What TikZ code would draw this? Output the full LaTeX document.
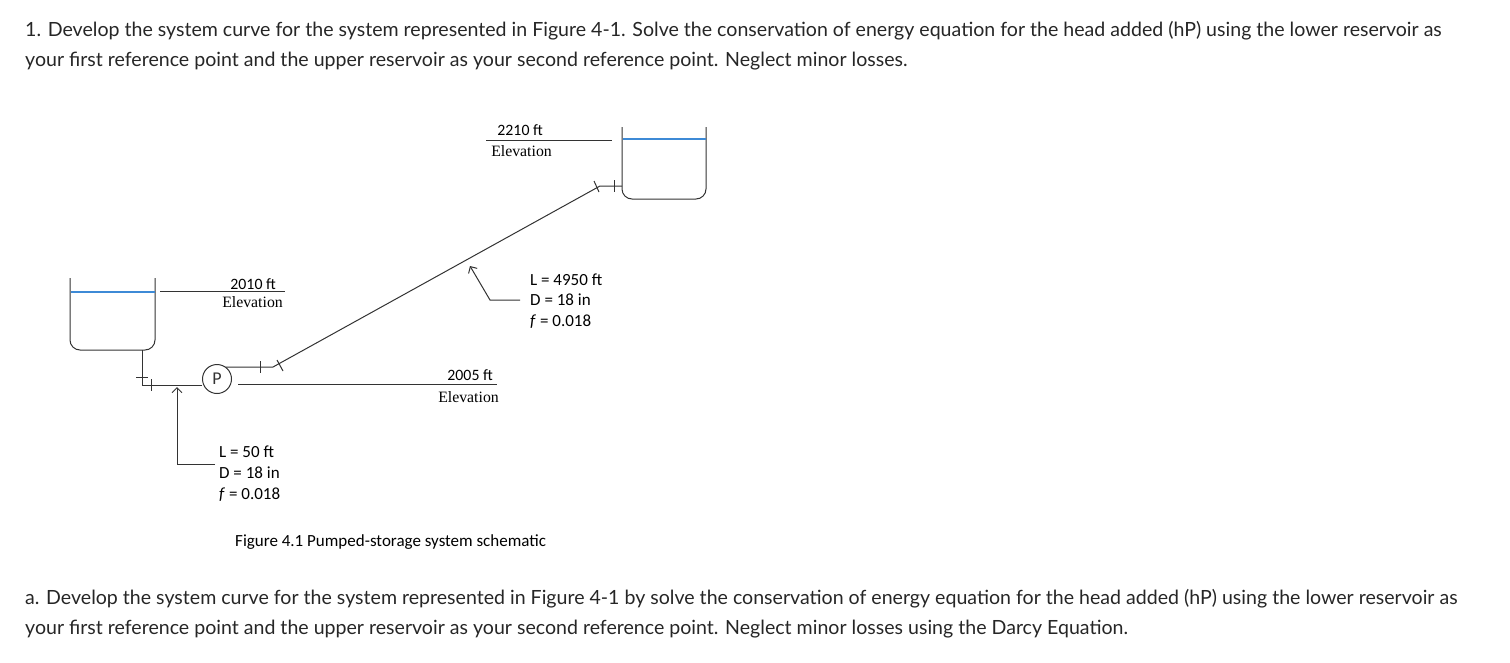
\documentclass[tikz,border=0pt]{standalone}
\usepackage{fontspec}
\setmainfont{Lato}
\newfontfamily\calf{Carlito}
\newfontfamily\tms{Liberation Serif}
\usetikzlibrary{arrows.meta}
\definecolor{wat}{HTML}{3D8AD6}
\begin{document}
\begin{tikzpicture}[x=1pt,y=-1pt,
  body/.style={anchor=base west,inner sep=0pt,font=\fontsize{19.57}{22}\selectfont,text=black!85},
  lab/.style={anchor=base west,inner sep=0pt,font=\calf\fontsize{17}{19}\selectfont},
  elev/.style={anchor=base east,inner sep=0pt,font=\tms\fontsize{15.8}{18}\selectfont},
  pipe/.style={line width=1pt,black!80},
  water/.style={line width=1.1pt,wat}]
\useasboundingbox (0,0) rectangle (1510,662);
\node[body] (t1) at (25,36) {1. Develop the system curve for the system represented in Figure 4-1. Solve the conservation of energy equation for the head added (hP) using the lower reservoir as};
\node[body] (t2) at (25,66) {your first reference point and the upper reservoir as your second reference point. Neglect minor losses.};
\node[body] (t3) at (25,604) {a. Develop the system curve for the system represented in Figure 4-1 by solve the conservation of energy equation for the head added (hP) using the lower reservoir as};
\node[body] (t4) at (25,634) {your first reference point and the upper reservoir as your second reference point. Neglect minor losses using the Darcy Equation.};
% lower tank
\draw[pipe,rounded corners=10pt] (70,278) -- (70,350) -- (155,350) -- (155,278);
\draw[water] (70.5,292) -- (154.5,292);
\draw[pipe] (160,291) -- (285,291);
\node[elev] (e1a) at (276,289) {\calf 2010 ft};
\node[elev] (e1b) at (283,307) {Elevation};
% pump
\node[draw,circle,minimum size=29pt,inner sep=0pt,pipe,font=\calf\fontsize{18}{18}\selectfont] (P) at (217,379) {P};
\coordinate (lo1) at (142,350);
\coordinate (lo2) at (142,385);
\draw[pipe] (lo1) -- (lo2) -- (P.west|-lo2) ;
\draw[pipe] (136,377) -- (148,377);
\draw[pipe] (151,379) -- (151,391);
\coordinate (po) at (273,367);
\draw[pipe] (P.north east|-po) ++(-2,0) -- (po) -- (600,186) -- (622,186);
\draw[pipe] (260,361) -- (260,373);
\draw[pipe] (277,360) -- (283,371);
\draw[pipe] (594,181) -- (599,192);
\draw[pipe] (614,180) -- (614,192);
% 2005
\draw[pipe] (238,384) -- (497,384);
\node[elev] (e2a) at (493,380) {\calf 2005 ft};
\node[elev] (e2b) at (499,402) {Elevation};
% upper tank
\draw[pipe,rounded corners=10pt] (622,127) -- (622,199) -- (706,199) -- (706,127);
\draw[water] (622.5,139) -- (705.5,139);
\draw[pipe] (486,140) -- (612,140);
\node[elev] (e3a) at (543,135) {\calf 2210 ft};
\node[elev] (e3b) at (552,156) {Elevation};
% leaders
\coordinate (a1) at (215,464);
\draw[pipe,-{Straight Barb[length=5pt]}] (a1) -- (177,464) -- (177,387);
\node[lab] (l1) at (219,457) {L = 50 ft};
\node[lab] (l2) at (219,478) {D = 18 in};
\node[lab] (l3) at (219,499) {\textit{f} = 0.018};
\coordinate (a2) at (520,300);
\draw[pipe,-{Straight Barb[length=5pt]}] (a2) -- (490,300) -- (470,266);
\node[lab] (u1) at (530,285) {L = 4950 ft};
\node[lab] (u2) at (530,305) {D = 18 in};
\node[lab] (u3) at (530,326) {\textit{f} = 0.018};
\node[lab] (cap) at (235,546) {Figure 4.1 Pumped-storage system schematic};
\end{tikzpicture}
\end{document}
